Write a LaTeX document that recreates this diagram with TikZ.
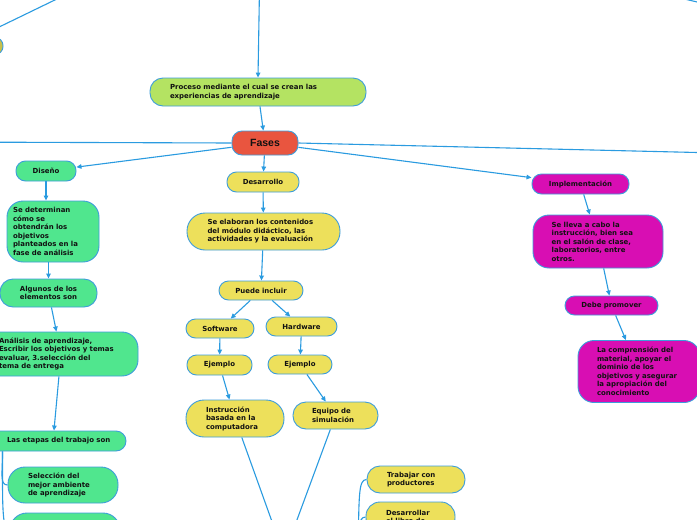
\documentclass[tikz,border=0pt]{standalone}
\usepackage{fontspec}
\setmainfont{DejaVu Sans}
\newfontfamily\fasesfont{Liberation Sans}
\usetikzlibrary{arrows.meta}
\definecolor{limec}{HTML}{B4E362}
\definecolor{redc}{HTML}{E9553F}
\definecolor{grnc}{HTML}{50E68E}
\definecolor{yelc}{HTML}{EDE05B}
\definecolor{magc}{HTML}{D80EB3}
\definecolor{olvc}{HTML}{C9C14A}
\definecolor{bordc}{HTML}{3D9DDB}
\definecolor{linec}{HTML}{2A9BE0}
\definecolor{txtc}{HTML}{111111}
\newcommand\mfont{\fontsize{6.95}{8.5}\selectfont\bfseries}
\tikzset{
  bx/.style={draw=bordc, line width=0.9pt, font=\mfont, text=txtc, inner ysep=0pt, align=left},
  cbx/.style={bx, align=center, inner xsep=4pt, rounded corners=9.5pt},
  conn/.style={draw=linec, line width=1.1pt},
  arr/.style={conn, -{Triangle[length=5pt,width=4.5pt]}},
}
\begin{document}
\begin{tikzpicture}[x=1pt,y=-1pt]
\useasboundingbox (0,0) rectangle (697,520);
\fill[white] (0,0) rectangle (697,520);
\clip (0,0) rectangle (697,520);

% off-screen anchors
\coordinate (root) at (261,-100);
\coordinate (tr) at (740,12);
\coordinate (fl) at (-60,142);
\coordinate (fr) at (760,154);
\coordinate (bel) at (284,555);
\coordinate (p2) at (358,570);

% top-left partial node
\node[bx, fill=olvc, rounded corners=8pt, minimum width=86pt, minimum height=17pt, inner sep=0pt] (tl) at (-40,46) {};

% central
\node[bx, fill=limec, rounded corners=13pt, minimum height=28pt, text width=176pt, inner xsep=20pt] (proc) at (258,92)
  {Proceso mediante el cual se crean las\\experiencias de aprendizaje};
\node[bx, fill=redc, align=center, rounded corners=10pt, minimum height=24pt, text width=58pt, inner xsep=4pt, font=\fasesfont\fontsize{10.5}{12}\selectfont\bfseries] (fases) at (265,143) {Fases};

% Diseño branch
\node[cbx, fill=grnc, minimum height=20pt, text width=52pt] (dis) at (46,171) {Diseño};
\node[bx, fill=grnc, rounded corners=16pt, minimum height=61pt, text width=80pt, inner xsep=6pt] (sedet) at (53,231.5)
  {Se determinan\\cómo se\\obtendrán los\\objetivos\\planteados en la\\fase de análisis};
\node[bx, fill=grnc, align=center, rounded corners=13pt, minimum height=28pt, text width=87pt, inner xsep=5pt] (alg) at (48.5,293)
  {Algunos de los\\elementos son};
\node[bx, fill=grnc, rounded corners=16pt, minimum height=44pt, text width=124pt, inner xsep=15pt] (anal) at (61,354)
  {\mbox{Análisis de aprendizaje,}\\\mbox{Escribir los objetivos y temas}\\\mbox{evaluar, 3.selección del}\\\mbox{tema de entrega}};
\node[bx, fill=grnc, rounded corners=10pt, minimum height=20pt, text width=92pt, inner xsep=27pt] (etap) at (53,441)
  {\mbox{Las etapas del trabajo son}};
\node[bx, fill=grnc, rounded corners=17pt, minimum height=36pt, text width=70pt, inner xsep=20pt] (sel) at (63,485)
  {Selección del\\mejor ambiente\\de aprendizaje};
\node[bx, fill=grnc, rounded corners=17pt, minimum width=110pt, minimum height=36pt, inner sep=0pt] (bot) at (65,531) {};

% Desarrollo branch
\node[cbx, fill=yelc, minimum height=20pt, text width=64pt] (desa) at (263,182) {Desarrollo};
\node[bx, fill=yelc, rounded corners=18pt, minimum height=37pt, text width=112pt, inner xsep=20.5pt] (seelab) at (263.5,231.5)
  {\mbox{Se elaboran los contenidos}\\\mbox{del módulo didáctico, las}\\\mbox{actividades y la evaluación}};
\node[cbx, fill=yelc, minimum height=19pt, text width=76pt] (puede) at (261,290.5) {Puede incluir};
\node[cbx, fill=yelc, minimum height=19pt, text width=60pt] (soft) at (220,328.5) {Software};
\node[cbx, fill=yelc, minimum height=19pt, text width=63pt] (hard) at (301.5,326.5) {Hardware};
\node[cbx, fill=yelc, minimum height=20pt, text width=57pt] (ej1) at (219.5,365) {Ejemplo};
\node[cbx, fill=yelc, minimum height=19pt, text width=56pt] (ej2) at (300,364.5) {Ejemplo};
\node[bx, fill=yelc, rounded corners=18pt, minimum height=37pt, text width=58pt, inner xsep=20pt] (instr) at (235,418.5)
  {\mbox{Instrucción}\\\mbox{basada en la}\\\mbox{computadora}};
\node[bx, fill=yelc, rounded corners=13pt, minimum height=27pt, text width=47pt, inner xsep=19pt] (equ) at (335.5,415.5)
  {\mbox{Equipo de}\\\mbox{simulación}};
\node[bx, fill=yelc, rounded corners=13pt, minimum height=27pt, text width=58pt, inner xsep=20pt] (trab) at (416,479.5)
  {\mbox{Trabajar con}\\\mbox{productores}};
\node[bx, fill=yelc, rounded corners=14pt, minimum height=30pt, text width=49pt, inner xsep=20pt] (desr) at (410.5,517)
  {\mbox{Desarrollar}\\\mbox{el libro de}};

% Implementación branch
\node[cbx, fill=magc, minimum height=20pt, text width=89pt] (impl) at (580.5,184) {Implementación};
\node[bx, fill=magc, rounded corners=16pt, minimum height=53pt, text width=92.6pt, inner xsep=18.7pt] (selleva) at (598,241.5)
  {Se lleva a cabo la\\instrucción, bien sea\\en el salón de clase,\\laboratorios, entre\\otros.};
\node[cbx, fill=magc, minimum height=19pt, text width=85pt] (debe) at (611.5,305.5) {Debe promover};
\node[bx, fill=magc, rounded corners=16pt, minimum height=62pt, text width=84pt, inner xsep=19pt] (lacomp) at (639,371.5)
  {\mbox{La comprensión del}\\\mbox{material, apoyar el}\\\mbox{dominio de los}\\\mbox{objetivos y asegurar}\\\mbox{la apropiación del}\\\mbox{conocimiento}};

% connectors
\draw[arr] (root) -- (proc.north);
\draw[conn] (root) -- (tl);
\draw[conn] (root) -- (tr);
\draw[arr] (proc) -- (fases);
\draw[conn] (fases.west) -- (fl);
\draw[conn] (fases.east) -- (fr);
\draw[arr] (fases) -- (dis);
\draw[arr] (fases) -- (desa);
\draw[arr] (fases) -- (impl);

\draw[arr] (dis.south) -- (sedet.north -| dis.south);
\draw[arr] (sedet.south -| alg.north) -- (alg.north);
\draw[arr] (alg) -- (anal);
\draw[arr] (anal) -- (etap);
\draw[conn] ([xshift=23pt]etap.south west) .. controls +(0,22) and +(-8,0) .. (sel.west);
\draw[conn] ([xshift=23pt]etap.south west) .. controls +(0,50) and +(-8,0) .. (bot.west);

\draw[arr] (desa) -- (seelab);
\draw[arr] (seelab) -- (puede);
\draw[arr] (puede) -- (soft);
\draw[arr] (puede) -- (hard);
\draw[arr] (soft) -- (ej1);
\draw[arr] (hard) -- (ej2);
\draw[arr] (ej1) -- (instr);
\draw[arr] (ej2) -- (equ);
\draw[conn] (instr) -- (bel);
\draw[conn] (equ) -- (bel);
\draw[conn] (p2) .. controls (359,495) and (358,479.5) .. (trab.west);
\draw[conn] (p2) .. controls (357.5,530) and (358,517) .. (desr.west);

\draw[arr] (impl) -- (selleva);
\draw[arr] (selleva) -- (debe);
\draw[arr] (debe) -- (lacomp);
\end{tikzpicture}
\end{document}
